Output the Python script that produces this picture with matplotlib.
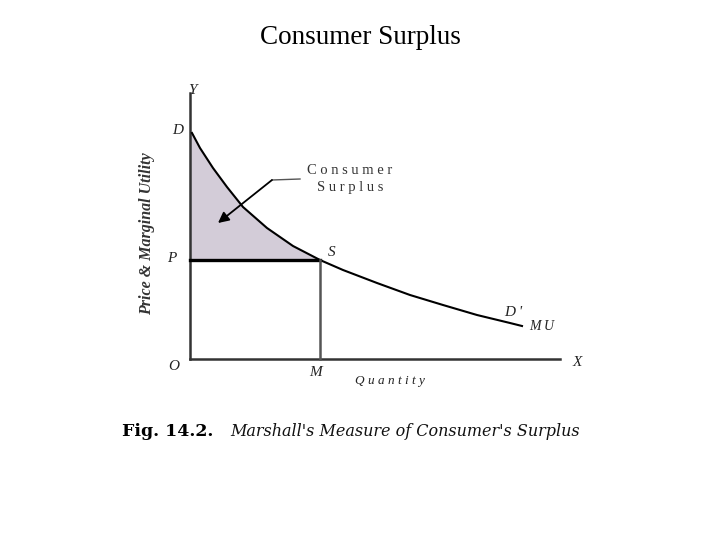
import matplotlib
matplotlib.use('Agg')
import matplotlib.pyplot as plt
import numpy as np

# demand / marginal utility curve (origin at O)
curve_x = [2, 10, 23, 37, 53, 77, 103, 130, 153, 187, 220, 253, 287, 320, 332]
curve_y = [226, 211, 191, 172, 152, 131, 113, 99, 89, 76, 64, 54, 44, 36, 33]
price_p = 99
qty_m = 130
x_axis_end = 370
y_axis_top = 266

serif = 'Liberation Serif'
fill_col = '#d3ccd8'

fig = plt.figure(figsize=(7.2, 5.4), dpi=100)
ax = fig.add_axes([0, 0, 1, 1])
ax.set_xlim(-190, 530)
ax.set_ylim(-181, 359)
ax.axis('off')

cx = np.array(curve_x)
cy = np.array(curve_y)

# shaded consumer surplus area
mask = cx <= qty_m
fx = np.concatenate([[0], cx[mask]])
fy = np.concatenate([[cy[0]], cy[mask]])
ax.fill_between(fx, price_p, fy, color=fill_col, lw=0)

# axes
ax.plot([0, 0], [0, y_axis_top], color='#333333', lw=1.8)
ax.plot([0, x_axis_end], [0, 0], color='#333333', lw=1.8)

# curve
ax.plot(cx, cy, color='black', lw=1.5, solid_joinstyle='round')

# price line and quantity line
ax.plot([0, qty_m], [price_p, price_p], color='black', lw=2.4)
ax.plot([qty_m, qty_m], [0, price_p], color='#555555', lw=1.8)

# arrow from label into shaded area
ax.plot([110, 82], [180, 179], color='#555555', lw=1.0)
ax.annotate('', xy=(28, 136), xytext=(82, 179),
            arrowprops=dict(arrowstyle='-|>', color='black', lw=1.3,
                            mutation_scale=16, shrinkA=0, shrinkB=0))

lbl = dict(family=serif, style='italic', fontsize=11, color='#222222',
           ha='center', va='center')
ax.text(2, 269, 'Y', **lbl)
ax.text(-12, 229, 'D', **lbl)
ax.text(-18, 101, 'P', **lbl)
ax.text(-16, -8, 'O', **lbl)
ax.text(126, -13, 'M', **lbl)
ax.text(142, 107, 'S', **lbl)
ax.text(387, -4, 'X', **lbl)
ax.text(323, 47, "D '", **lbl)
ax.text(352, 32, 'M U', fontsize=10, family=serif, style='italic',
        color='#222222', ha='center', va='center')
ax.text(200, -22, 'Q u a n t i t y', family=serif, style='italic',
        fontsize=9.5, color='#222222', ha='center', va='center')
ax.text(-43, 125, 'Price & Marginal Utility', family=serif, style='italic',
        fontweight='bold', fontsize=11.5, color='#333333', rotation=90,
        ha='center', va='center')

ax.text(160, 180, 'C o n s u m e r\nS u r p l u s', family=serif,
        fontsize=10.5, color='#333333', ha='center', va='center',
        linespacing=1.45)

# caption
ax.text(-68, -73, 'Fig. 14.2.', family='DejaVu Serif', fontweight='bold',
        fontsize=12.5, color='black', ha='left', va='center')
ax.text(40, -73, "Marshall's Measure of Consumer's Surplus",
        family='DejaVu Serif', style='italic', fontsize=11.5,
        color='#111111', ha='left', va='center')

fig.text(0.5, 0.931, 'Consumer Surplus', family=serif, fontsize=19.5,
         ha='center', va='center')

fig.savefig('out.png', dpi=100)
